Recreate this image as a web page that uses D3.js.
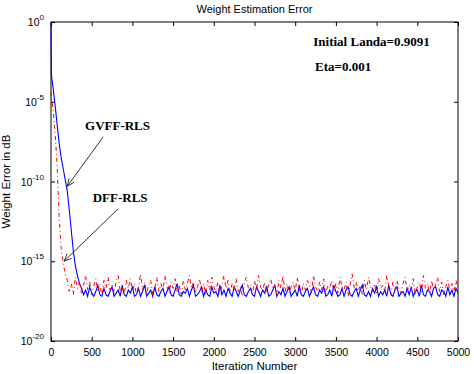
<!DOCTYPE html>
<html>
<head>
<meta charset="utf-8">
<script src="https://cdn.jsdelivr.net/npm/d3@7"></script>
<style>
  html, body { margin: 0; padding: 0; background: #fff; }
  svg { display: block; }
  text { font-family: "Liberation Sans", Arial, sans-serif; fill: #000; }
  .ann { font-family: "Liberation Serif", "Times New Roman", serif; font-weight: bold; font-size: 13px; }
</style>
</head>
<body>
<svg id="chart" width="474" height="374"></svg>
<script>
// ---------------- data ----------------
const title = "Weight Estimation Error";
const xLabel = "Iteration Number";
const yLabel = "Weight Error in dB";
const xTicks = [0, 500, 1000, 1500, 2000, 2500, 3000, 3500, 4000, 4500, 5000];
const yTickExponents = [0, -5, -10, -15, -20];

// iteration numbers of the samples
const iterations = [0, 5].concat(d3.range(25, 5001, 25));

// GVFF-RLS: log10 of weight error (blue, solid)
const gvffLog = [
  0, -3.3, -4.1, -5.2, -6.4, -7.6, -8.5, -9.2, -9.9, -10.6, -11.8, -13.1, -14.4, -15.3, -15.9, -16.4, -16.7,
  -17.1,-16.8,-17.2,-16.6,-17.0,-17.2,-16.9,-16.5,-17.1,-17.2,
  -16.7,-17.1,-17.2,-16.9,-16.6,-17.2,-17.0,-16.8,-17.2,-16.5,
  -17.1,-17.2,-16.8,-17.0,-16.6,-17.2,-17.1,-16.7,-17.2,-16.9,
  -16.5,-17.2,-17.0,-16.8,-17.2,-16.6,-17.1,-17.2,-16.9,-16.7,
  -17.2,-16.9,-16.6,-17.1,-17.2,-16.8,-16.4,-17.1,-17.2,-16.9,
  -17.0,-16.7,-17.2,-16.8,-16.5,-17.2,-17.1,-16.9,-16.6,-17.2,
  -16.8,-17.1,-17.2,-16.6,-17.0,-16.9,-17.2,-16.5,-17.1,-16.8,
  -17.2,-16.7,-17.0,-17.2,-16.6,-16.9,-17.2,-16.8,-16.5,-17.1,
  -17.2,-16.9,-16.7,-17.1,-17.2,-16.6,-16.9,-17.2,-16.8,-17.0,
  -16.6,-17.2,-17.1,-16.8,-16.5,-17.2,-16.9,-17.1,-16.7,-17.2,
  -16.9,-16.6,-17.2,-17.0,-16.8,-17.2,-16.5,-17.1,-17.2,-16.9,
  -16.7,-17.2,-16.9,-16.6,-17.1,-17.2,-16.8,-17.0,-16.6,-17.2,
  -17.1,-16.8,-17.2,-16.5,-16.9,-17.2,-17.1,-16.7,-17.2,-16.8,
  -16.6,-17.1,-17.2,-16.9,-16.7,-17.2,-16.8,-16.5,-17.1,-17.2,
  -16.9,-17.2,-16.7,-17.0,-16.6,-17.2,-16.9,-17.1,-16.8,-17.2,
  -16.5,-17.1,-17.2,-16.8,-16.6,-17.2,-17.0,-16.9,-17.2,-16.7,
  -17.1,-16.6,-17.2,-16.9,-16.8,-17.2,-16.5,-17.1,-17.2,-16.8,
  -16.9,-17.2,-16.7,-16.6,-17.1,-17.2,-16.8,-16.9,-17.2,-16.6,
  -17.1,-16.8,-17.2,-16.7,-17.0
];

// DFF-RLS: log10 of weight error (red, dash-dot)
const dffLog = [
  -4.4, -4.7, -5.4, -6.9, -9.0, -12.2, -14.2, -15.1, -15.8,
  -16.2,-16.9,-16.4,-17.1,-16.0,-16.7,-16.3,-17.0,-16.5,-15.9,
  -16.8,-16.3,-17.1,-16.6,-16.1,-16.9,-16.4,-17.2,-16.2,-16.7,
  -16.0,-16.8,-16.5,-17.0,-16.3,-15.9,-16.9,-16.6,-17.1,-16.2,
  -16.7,-16.1,-16.9,-16.4,-17.1,-16.6,-15.8,-16.8,-16.3,-17.0,
  -16.5,-16.2,-17.1,-16.7,-16.0,-16.9,-16.4,-16.8,-15.9,-16.6,
  -17.0,-16.3,-16.7,-16.1,-16.9,-16.5,-17.2,-16.2,-16.8,-16.4,
  -15.9,-16.7,-16.3,-17.0,-16.6,-16.1,-16.9,-16.4,-17.1,-16.2,
  -16.8,-16.0,-16.6,-16.9,-16.3,-17.1,-16.5,-15.9,-16.7,-16.2,
  -17.0,-16.4,-16.8,-16.1,-16.9,-16.6,-17.2,-16.3,-16.0,-16.7,
  -16.5,-17.1,-16.2,-16.8,-15.9,-16.6,-16.9,-16.3,-17.0,-16.4,
  -16.1,-16.8,-16.5,-17.1,-16.2,-16.7,-15.9,-16.9,-16.4,-17.0,
  -16.6,-16.3,-16.9,-16.0,-16.7,-17.1,-16.4,-16.8,-16.2,-16.5,
  -17.0,-15.9,-16.6,-16.9,-16.3,-16.8,-16.1,-17.1,-16.5,-16.7,
  -16.2,-16.9,-16.4,-17.0,-16.0,-16.6,-16.8,-16.3,-17.2,-16.5,
  -15.8,-16.7,-16.3,-16.9,-16.5,-17.1,-16.2,-16.8,-16.0,-16.6,
  -16.9,-16.4,-17.0,-16.1,-16.7,-16.5,-16.9,-15.9,-16.6,-17.1,
  -16.3,-16.8,-16.2,-16.7,-17.0,-16.4,-16.0,-16.9,-16.5,-16.8,
  -16.1,-17.1,-16.6,-16.3,-16.9,-15.9,-16.7,-16.4,-17.0,-16.2,
  -16.8,-16.5,-16.0,-16.9,-16.3,-17.1,-16.6,-16.2,-16.8,-16.4,
  -16.9,-16.2,-16.7
];

// text annotations (data coordinates: iteration, log10 error)
const notes = [
  { text: "Initial Landa=0.9091", n: 3222, e: -1.5 },
  { text: "Eta=0.001", n: 3243, e: -3.1 },
  { text: "GVFF-RLS", n: 418, e: -6.8 },
  { text: "DFF-RLS", n: 512, e: -11.27 }
];
const arrows = [
  { n0: 642, e0: -7.2, n1: 200, e1: -10.3 },
  { n0: 827, e0: -11.7, n1: 160, e1: -15.0 }
];

// ---------------- drawing ----------------
const svg = d3.select("#chart");
const M = { left: 51, right: 16, top: 22, bottom: 33 };
const W = 474, H = 374;
const x = d3.scaleLinear().domain([0, 5000]).range([M.left, W - M.right]);
const y = d3.scaleLog().domain([1e-20, 1]).range([H - M.bottom, M.top]);

svg.append("rect").attr("width", W).attr("height", H).attr("fill", "#fff");

svg.append("clipPath").attr("id", "clip").append("rect")
  .attr("x", x(0) - 1.5).attr("y", y(1)).attr("width", x(5000) - x(0) + 1.5).attr("height", y(1e-20) - y(1));

// frame
svg.append("rect").attr("x", x(0)).attr("y", y(1))
  .attr("width", x(5000) - x(0)).attr("height", y(1e-20) - y(1))
  .attr("fill", "none").attr("stroke", "#000").attr("stroke-width", 1);

const gvff = iterations.map((n, i) => ({ n, v: Math.pow(10, gvffLog[i]) }));
const dff = iterations.map((n, i) => ({ n, v: Math.pow(10, dffLog[i]) }));
const line = d3.line().x(d => x(d.n)).y(d => y(d.v));

const plot = svg.append("g").attr("clip-path", "url(#clip)");
plot.append("path").datum(gvff).attr("d", line)
  .attr("fill", "none").attr("stroke", "#0000ff").attr("stroke-width", 1.1);
plot.append("path").datum(dff).attr("d", line)
  .attr("fill", "none").attr("stroke", "#ff0000").attr("stroke-width", 1)
  .attr("stroke-dasharray", "4,3,1,3");

// axes (ticks inward)
const tickLen = 4;
const xb = svg.append("g").attr("transform", `translate(0,${y(1e-20)})`)
  .call(d3.axisBottom(x).tickValues(xTicks).tickFormat(d3.format("d"))
    .tickSizeInner(-tickLen).tickSizeOuter(0).tickPadding(8));
const xt = svg.append("g").attr("transform", `translate(0,${y(1)})`)
  .call(d3.axisTop(x).tickValues(xTicks).tickSizeInner(-tickLen).tickSizeOuter(0).tickFormat(""));
const yVals = yTickExponents.map(e => Math.pow(10, e));
const yl = svg.append("g").attr("transform", `translate(${x(0)},0)`)
  .call(d3.axisLeft(y).tickValues(yVals).tickSizeInner(-tickLen).tickSizeOuter(0).tickFormat(""));
const yr = svg.append("g").attr("transform", `translate(${x(5000)},0)`)
  .call(d3.axisRight(y).tickValues(yVals).tickSizeInner(-tickLen).tickSizeOuter(0).tickFormat(""));
[xb, xt, yl, yr].forEach(g => {
  g.select(".domain").remove();
  g.selectAll("line").attr("stroke", "#000");
});
xb.selectAll("text").attr("font-size", 10.5).attr("font-family", "Liberation Sans, Arial, sans-serif").attr("fill", "#000");

// y tick labels 10^e
yTickExponents.forEach(e => {
  const t = svg.append("text").attr("x", x(0) - 7).attr("y", y(Math.pow(10, e)) + 4)
    .attr("text-anchor", "end").attr("font-size", 10.5);
  t.append("tspan").text("10");
  t.append("tspan").attr("dy", -6).attr("font-size", 8).text(String(e));
});

// titles
svg.append("text").attr("x", (x(0) + x(5000)) / 2).attr("y", 13)
  .attr("text-anchor", "middle").attr("font-size", 11).text(title);
svg.append("text").attr("x", (x(0) + x(5000)) / 2).attr("y", 370)
  .attr("text-anchor", "middle").attr("font-size", 11.5).text(xLabel);
svg.append("text").attr("transform", `translate(10,${(y(1) + y(1e-20)) / 2}) rotate(-90)`)
  .attr("text-anchor", "middle").attr("font-size", 11.5).text(yLabel);

// annotations
notes.forEach(d => {
  svg.append("text").attr("class", "ann")
    .attr("x", x(d.n)).attr("y", y(Math.pow(10, d.e))).text(d.text);
});
arrows.forEach(a => {
  const x0 = x(a.n0), y0 = y(Math.pow(10, a.e0)), x1 = x(a.n1), y1 = y(Math.pow(10, a.e1));
  svg.append("line").attr("x1", x0).attr("y1", y0).attr("x2", x1).attr("y2", y1)
    .attr("stroke", "#333").attr("stroke-width", 1);
  const ang = Math.atan2(y1 - y0, x1 - x0);
  const hl = 8, hw = 0.4;
  const p1 = [x1 - hl * Math.cos(ang - hw), y1 - hl * Math.sin(ang - hw)];
  const p2 = [x1 - hl * Math.cos(ang + hw), y1 - hl * Math.sin(ang + hw)];
  svg.append("path").attr("d", `M${p1[0]},${p1[1]}L${x1},${y1}L${p2[0]},${p2[1]}`)
    .attr("fill", "none").attr("stroke", "#333").attr("stroke-width", 1);
});
</script>
</body>
</html>
